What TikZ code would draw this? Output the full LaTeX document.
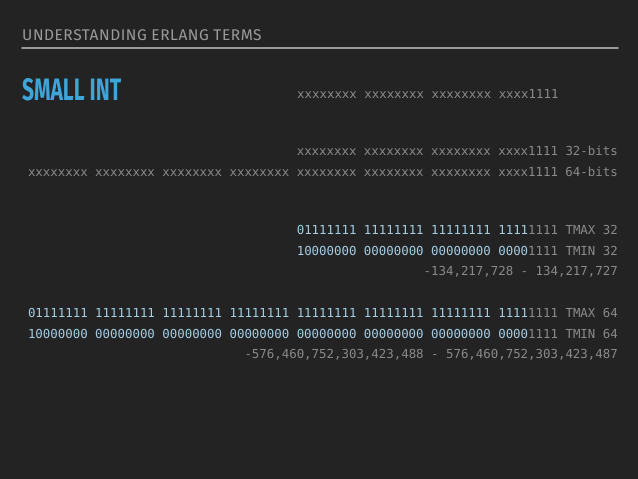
\documentclass[tikz,border=0pt]{standalone}
\usepackage{fontspec}
\setmainfont{Fira Sans}
\setmonofont{DejaVu Sans Mono}
\newfontfamily\headfont[LetterSpace=3.5]{Fira Sans}
\definecolor{slidebg}{HTML}{232323}
\definecolor{headgray}{HTML}{9A9A9A}
\definecolor{bitgray}{HTML}{8A8A8A}
\definecolor{bitblue}{HTML}{A3CCE3}
\definecolor{titleblue}{HTML}{3DA5DA}
\newcommand{\hi}[1]{\textcolor{bitblue}{#1}}
\begin{document}
\begin{tikzpicture}[x=1pt,y=-1pt,line cap=round,
  bits/.style={anchor=east,inner sep=0pt,text=bitgray,text height=9pt,text depth=0pt,font=\fontsize{12.4}{14}\ttfamily}]
  \fill[slidebg] (0,0) rectangle (638,479);
  \useasboundingbox (0,0) rectangle (638,479);
  % header
  \node[anchor=base west,inner sep=0pt,text=headgray,font=\fontsize{15.5}{17}\headfont] (head) at (22,40) {UNDERSTANDING ERLANG TERMS};
  \coordinate (ruleL) at (22,48);
  \coordinate (ruleR) at (618,48);
  \draw[headgray,line width=1.6pt] (ruleL) -- (ruleR);
  \node[anchor=base west,inner sep=0pt,text=titleblue,xscale=0.68,font=\fontsize{31}{34}\bfseries] (title) at (22,100) {SMALL INT};
  % term layout
  \node[bits,anchor=west] (term) at (297,94) {xxxxxxxx xxxxxxxx xxxxxxxx xxxx1111};
  \node[bits] (w32) at (618,151) {xxxxxxxx xxxxxxxx xxxxxxxx xxxx1111 32-bits};
  \node[bits] (w64) at (618,172) {xxxxxxxx xxxxxxxx xxxxxxxx xxxxxxxx xxxxxxxx xxxxxxxx xxxxxxxx xxxx1111 64-bits};
  % 32 bit limits
  \node[bits] (max32) at (618,230) {\hi{01111111 11111111 11111111 1111}1111 TMAX 32};
  \node[bits] (min32) at (618,251) {\hi{10000000 00000000 00000000 0000}1111 TMIN 32};
  \node[bits] (rng32) at (618,271) {-134,217,728 - 134,217,727};
  % 64 bit limits
  \node[bits] (max64) at (618,313) {\hi{01111111 11111111 11111111 11111111 11111111 11111111 11111111 1111}1111 TMAX 64};
  \node[bits] (min64) at (618,334) {\hi{10000000 00000000 00000000 00000000 00000000 00000000 00000000 0000}1111 TMIN 64};
  \node[bits] (rng64) at (618,354) {-576,460,752,303,423,488 - 576,460,752,303,423,487};
\end{tikzpicture}
\end{document}
